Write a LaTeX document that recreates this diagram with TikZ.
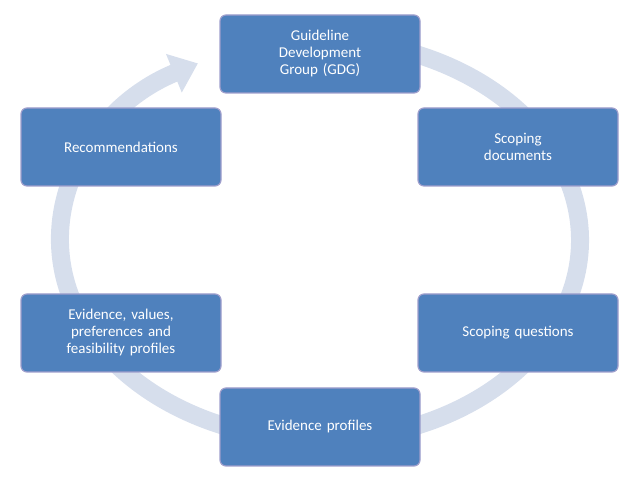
\documentclass[tikz,border=0pt]{standalone}
\usepackage{fontspec}
\setmainfont{Carlito}
\usetikzlibrary{arrows.meta}
\begin{document}
\begin{tikzpicture}[x=1pt,y=1pt,
  stage/.style={draw=white!70!blue!60!gray,line width=1.2pt,fill={rgb,255:red,79;green,129;blue,189},rounded corners=6pt,
    minimum width=200pt,minimum height=78pt,text width=180pt,align=center,text=white,font=\fontsize{15}{17}\selectfont}]
\useasboundingbox (0,0) rectangle (638,478);
\definecolor{ring}{RGB}{214,222,236}
\draw[ring,line width=18pt,-{Triangle[width=40pt,length=26pt]}] (320,238) ++(100:260 and 200) arc[start angle=100,end angle=-242,x radius=260,y radius=200];
\node[stage] (gdg) at (320,424) {Guideline\\Development\\Group (GDG)};
\node[stage] (sd) at (518,331) {Scoping\\documents};
\node[stage] (sq) at (518,145) {Scoping questions};
\node[stage] (ep) at (320,51) {Evidence profiles};
\node[stage,text width=190pt] (ev) at (121,145) {Evidence, values,\\preferences and\\feasibility profiles};
\node[stage] (rec) at (121,331) {Recommendations};
\end{tikzpicture}
\end{document}
